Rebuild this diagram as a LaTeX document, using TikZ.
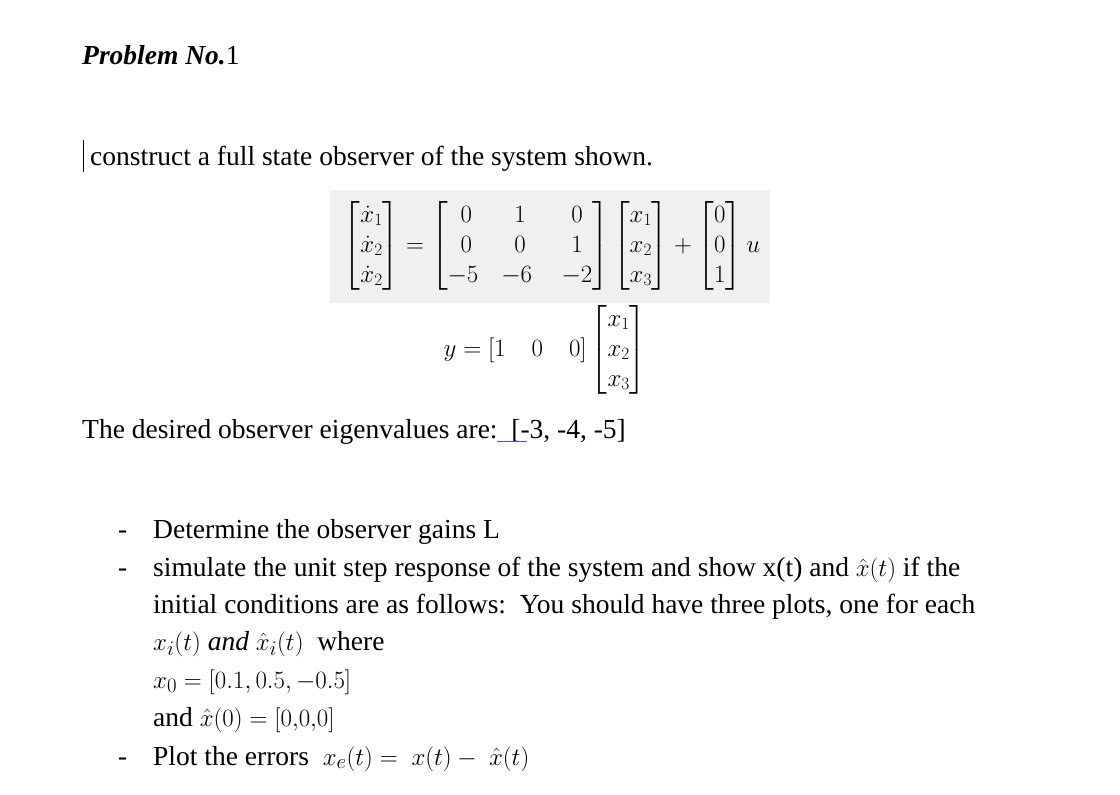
\documentclass[tikz,border=0pt]{standalone}
\usepackage{amsmath}
\usepackage{fontspec}
\setmainfont{Liberation Serif}
\usetikzlibrary{positioning}
\tikzset{txt/.style={anchor=base west,inner sep=0pt,font=\fontsize{27.5}{32}\selectfont},
 mth/.style={inner sep=0pt,font=\fontsize{26}{30}\selectfont}}
\begin{document}
\begin{tikzpicture}[x=1pt,y=-1pt]
\useasboundingbox (0,0) rectangle (1120,795);
\fill[gray!12] (330,190) rectangle (770,303);
\node[txt] (title) at (82,64) {\textbf{\textit{Problem No.}}1};
\draw[line width=1pt] (83,140) -- (83,172);
\node[txt] (intro) at (90,165) {construct a full state observer of the system shown.};
\node[mth] (eq1) at (552,246) {$\begin{bmatrix}\dot x_1\\ \dot x_2\\ \dot x_2\end{bmatrix}=\begin{bmatrix}\ 0\ &\ \ 1\ \ &\ \ 0\ \\ \ 0\ &\ \ 0\ \ &\ \ 1\ \\ -5\ &\ -6\ \ &\ -2\end{bmatrix}\begin{bmatrix}x_1\\ x_2\\ x_3\end{bmatrix}+\begin{bmatrix}0\\0\\1\end{bmatrix}u$};
\node[mth] (eq2) at (545,350) {$y=[1\quad 0\quad 0]\begin{bmatrix}x_1\\ x_2\\ x_3\end{bmatrix}$};
\node[txt] (eig) at (82,438) {The desired observer eigenvalues are:\ \ [-3, -4, -5]};
\draw[blue!70,line width=0.8pt] (497,441) -- (527,441);
\node[txt] (d1) at (118,538) {-};
\node[txt] (b1) at (153,538) {Determine the observer gains L};
\node[txt] (d2) at (118,576) {-};
\node[txt] (b2) at (153,576) {simulate the unit step response of the system and show x(t) and $\hat x(t)$ if the};
\node[txt] (b3) at (153,613) {initial conditions are as follows:\ \ You should have three plots, one for each};
\node[txt] (b4) at (153,650) {$x_i(t)\ \mathit{and}\ \hat x_i(t)$\ \ where};
\node[txt] (b5) at (153,688) {$x_0=[0.1,0.5,-0.5]$};
\node[txt] (b6) at (153,726) {and $\hat x(0)=[0{,}0{,}0]$};
\node[txt] (d3) at (118,765) {-};
\node[txt] (b7) at (153,765) {Plot the errors\ \ $x_e(t)=\ x(t)-\ \hat x(t)$};
\end{tikzpicture}
\end{document}
